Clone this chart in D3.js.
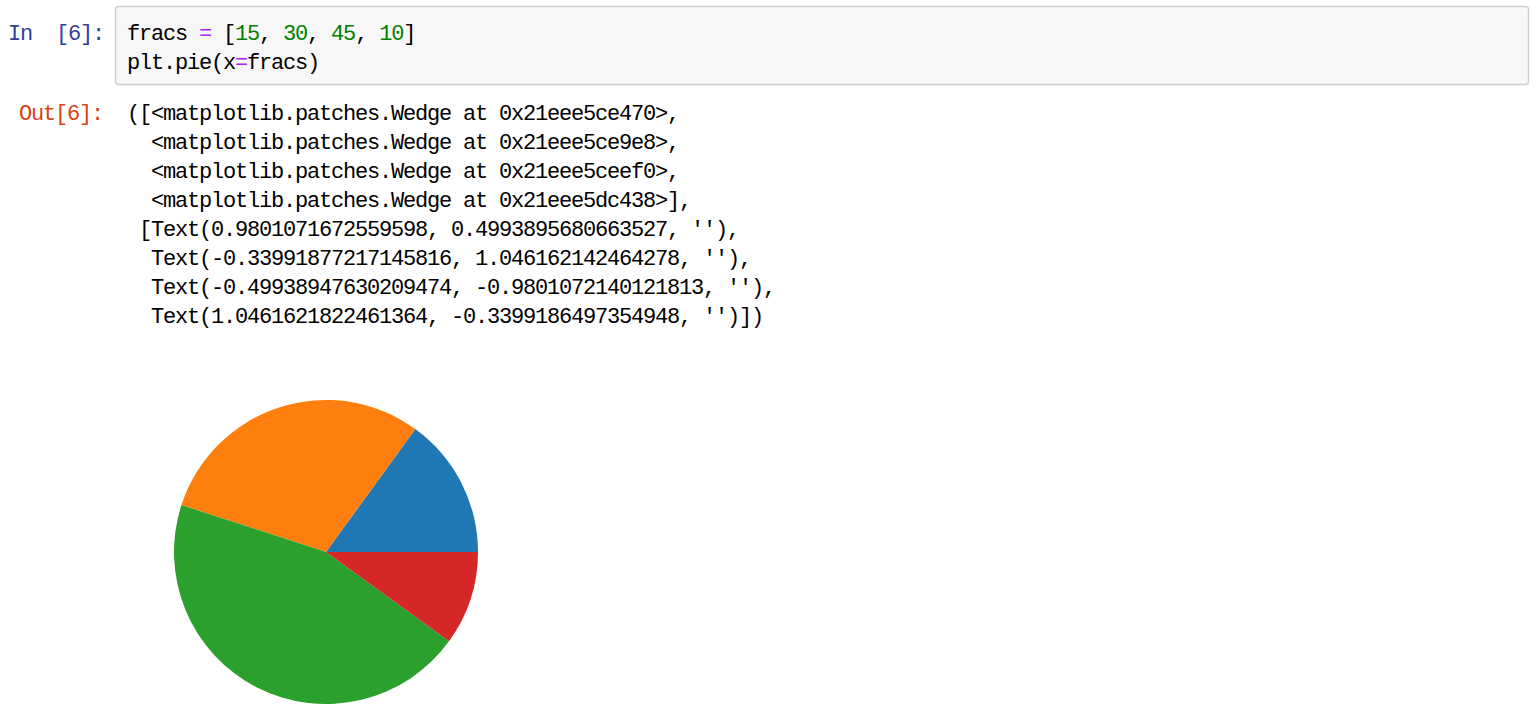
<!DOCTYPE html>
<html><head><meta charset="utf-8">
<script src="https://cdn.jsdelivr.net/npm/d3@7"></script>
<style>
html,body{margin:0;padding:0;background:#fff;}
svg{display:block;}
text{font-family:"Liberation Mono",monospace;font-size:22px;letter-spacing:-1.2px;white-space:pre;}
</style></head><body>
<svg id="c" width="1537" height="710"></svg>
<script>
const fracs = [15, 30, 45, 10];
const colors = ["#1f77b4", "#ff7f0e", "#2ca02c", "#d62728"];
const codeLines = [
  [["fracs ", "#000"], ["=", "#AA22FF"], [" [", "#000"], ["15", "#008000"], [", ", "#000"], ["30", "#008000"], [", ", "#000"], ["45", "#008000"], [", ", "#000"], ["10", "#008000"], ["]", "#000"]],
  [["plt.pie(x", "#000"], ["=", "#AA22FF"], ["fracs)", "#000"]]
];
const outLines = [
  "([<matplotlib.patches.Wedge at 0x21eee5ce470>,",
  "  <matplotlib.patches.Wedge at 0x21eee5ce9e8>,",
  "  <matplotlib.patches.Wedge at 0x21eee5ceef0>,",
  "  <matplotlib.patches.Wedge at 0x21eee5dc438>],",
  " [Text(0.9801071672559598, 0.4993895680663527, ''),",
  "  Text(-0.33991877217145816, 1.046162142464278, ''),",
  "  Text(-0.49938947630209474, -0.9801072140121813, ''),",
  "  Text(1.0461621822461364, -0.3399186497354948, '')])"
];

const svg = d3.select("#c");
// input prompt
svg.append("text").attr("x", 8).attr("y", 40).attr("fill", "#303F9F").text("In  [6]:");
// code cell box
svg.append("rect").attr("x", 115.5).attr("y", 6.5).attr("width", 1413).attr("height", 78)
  .attr("rx", 3).attr("fill", "#f7f7f7").attr("stroke", "#cfcfcf").attr("stroke-width", 1.5);
codeLines.forEach((segs, i) => {
  const t = svg.append("text").attr("x", 127).attr("y", 40 + i * 29);
  segs.forEach(([s, c]) => t.append("tspan").attr("fill", c).text(s));
});
// output prompt
svg.append("text").attr("x", 19).attr("y", 120).attr("fill", "#D84315").text("Out[6]:");
outLines.forEach((s, i) => {
  svg.append("text").attr("x", 127).attr("y", 120 + i * 29).attr("fill", "#000").text(s);
});

// pie
const cx = 326, cy = 552, R = 152;
const pie = d3.pie().sort(null).startAngle(Math.PI / 2).endAngle(Math.PI / 2 - 2 * Math.PI);
const arc = d3.arc().innerRadius(0).outerRadius(R);
const color = d3.scaleOrdinal().domain(d3.range(fracs.length)).range(colors);
svg.append("g").attr("transform", `translate(${cx},${cy})`)
  .selectAll("path").data(pie(fracs)).join("path")
  .attr("d", arc).attr("fill", (d, i) => color(i));
</script></body></html>
